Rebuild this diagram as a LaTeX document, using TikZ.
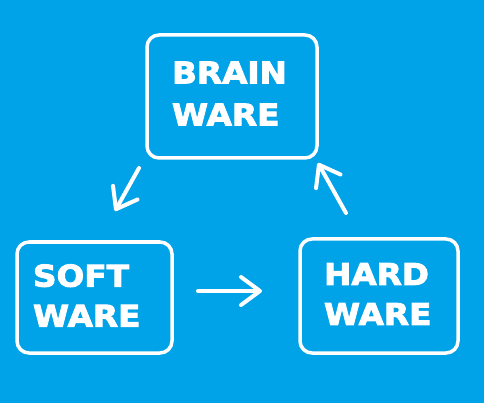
\documentclass[tikz,border=0pt]{standalone}
\usepackage{fontspec}
\usepackage{xcolor}
\usepackage{tikz}
\usetikzlibrary{arrows.meta, positioning}
\newfontfamily\warefont{DejaVu Sans Bold}[FakeStretch=1.09, FakeBold=3]
\definecolor{paintblue}{RGB}{0,162,232}
\newcommand{\lift}[1]{\rule[-#1]{0pt}{0pt}}

\begin{document}
\begin{tikzpicture}[x=1pt,y=-1pt]
		\tikzset{
			box/.style={rectangle, draw=white, line width=3.5pt, rounded corners=12pt,
			align=left, text=white, inner ysep=0pt,
			font={\warefont\fontsize{30}{40}\selectfont}},
			flow/.style={draw=white, line width=4pt, line cap=round,
			-{Straight Barb[length=19pt, width=28pt, round]}},
		}
		\fill[paintblue] (0,0) rectangle (484,403);

		\node[box, text width=120pt, inner xsep=25pt, minimum height=123pt](brain) at (232,96.5){BRAIN\\[2pt]WARE\lift{6pt}};
		\node[box, text width=123pt, inner xsep=16pt, minimum height=111pt](soft) at (94.5,297.5){SOFT\\WARE\lift{4pt}};
		\node[box, text width=110pt, inner xsep=24pt, minimum height=114pt](hard) at (379,296){HARD\\WARE\lift{4pt}};

		\coordinate(b1) at (139,168);
		\coordinate(s1) at (115,211);
		\coordinate(s2) at (198,291);
		\coordinate(h1) at (262,291);
		\coordinate(h2) at (346,213);
		\coordinate(b2) at (318,163);

		\draw[flow](b1) -- (s1);
		\draw[flow](s2) -- (h1);
		\draw[flow](h2) -- (b2);

	\end{tikzpicture}
\end{document}
